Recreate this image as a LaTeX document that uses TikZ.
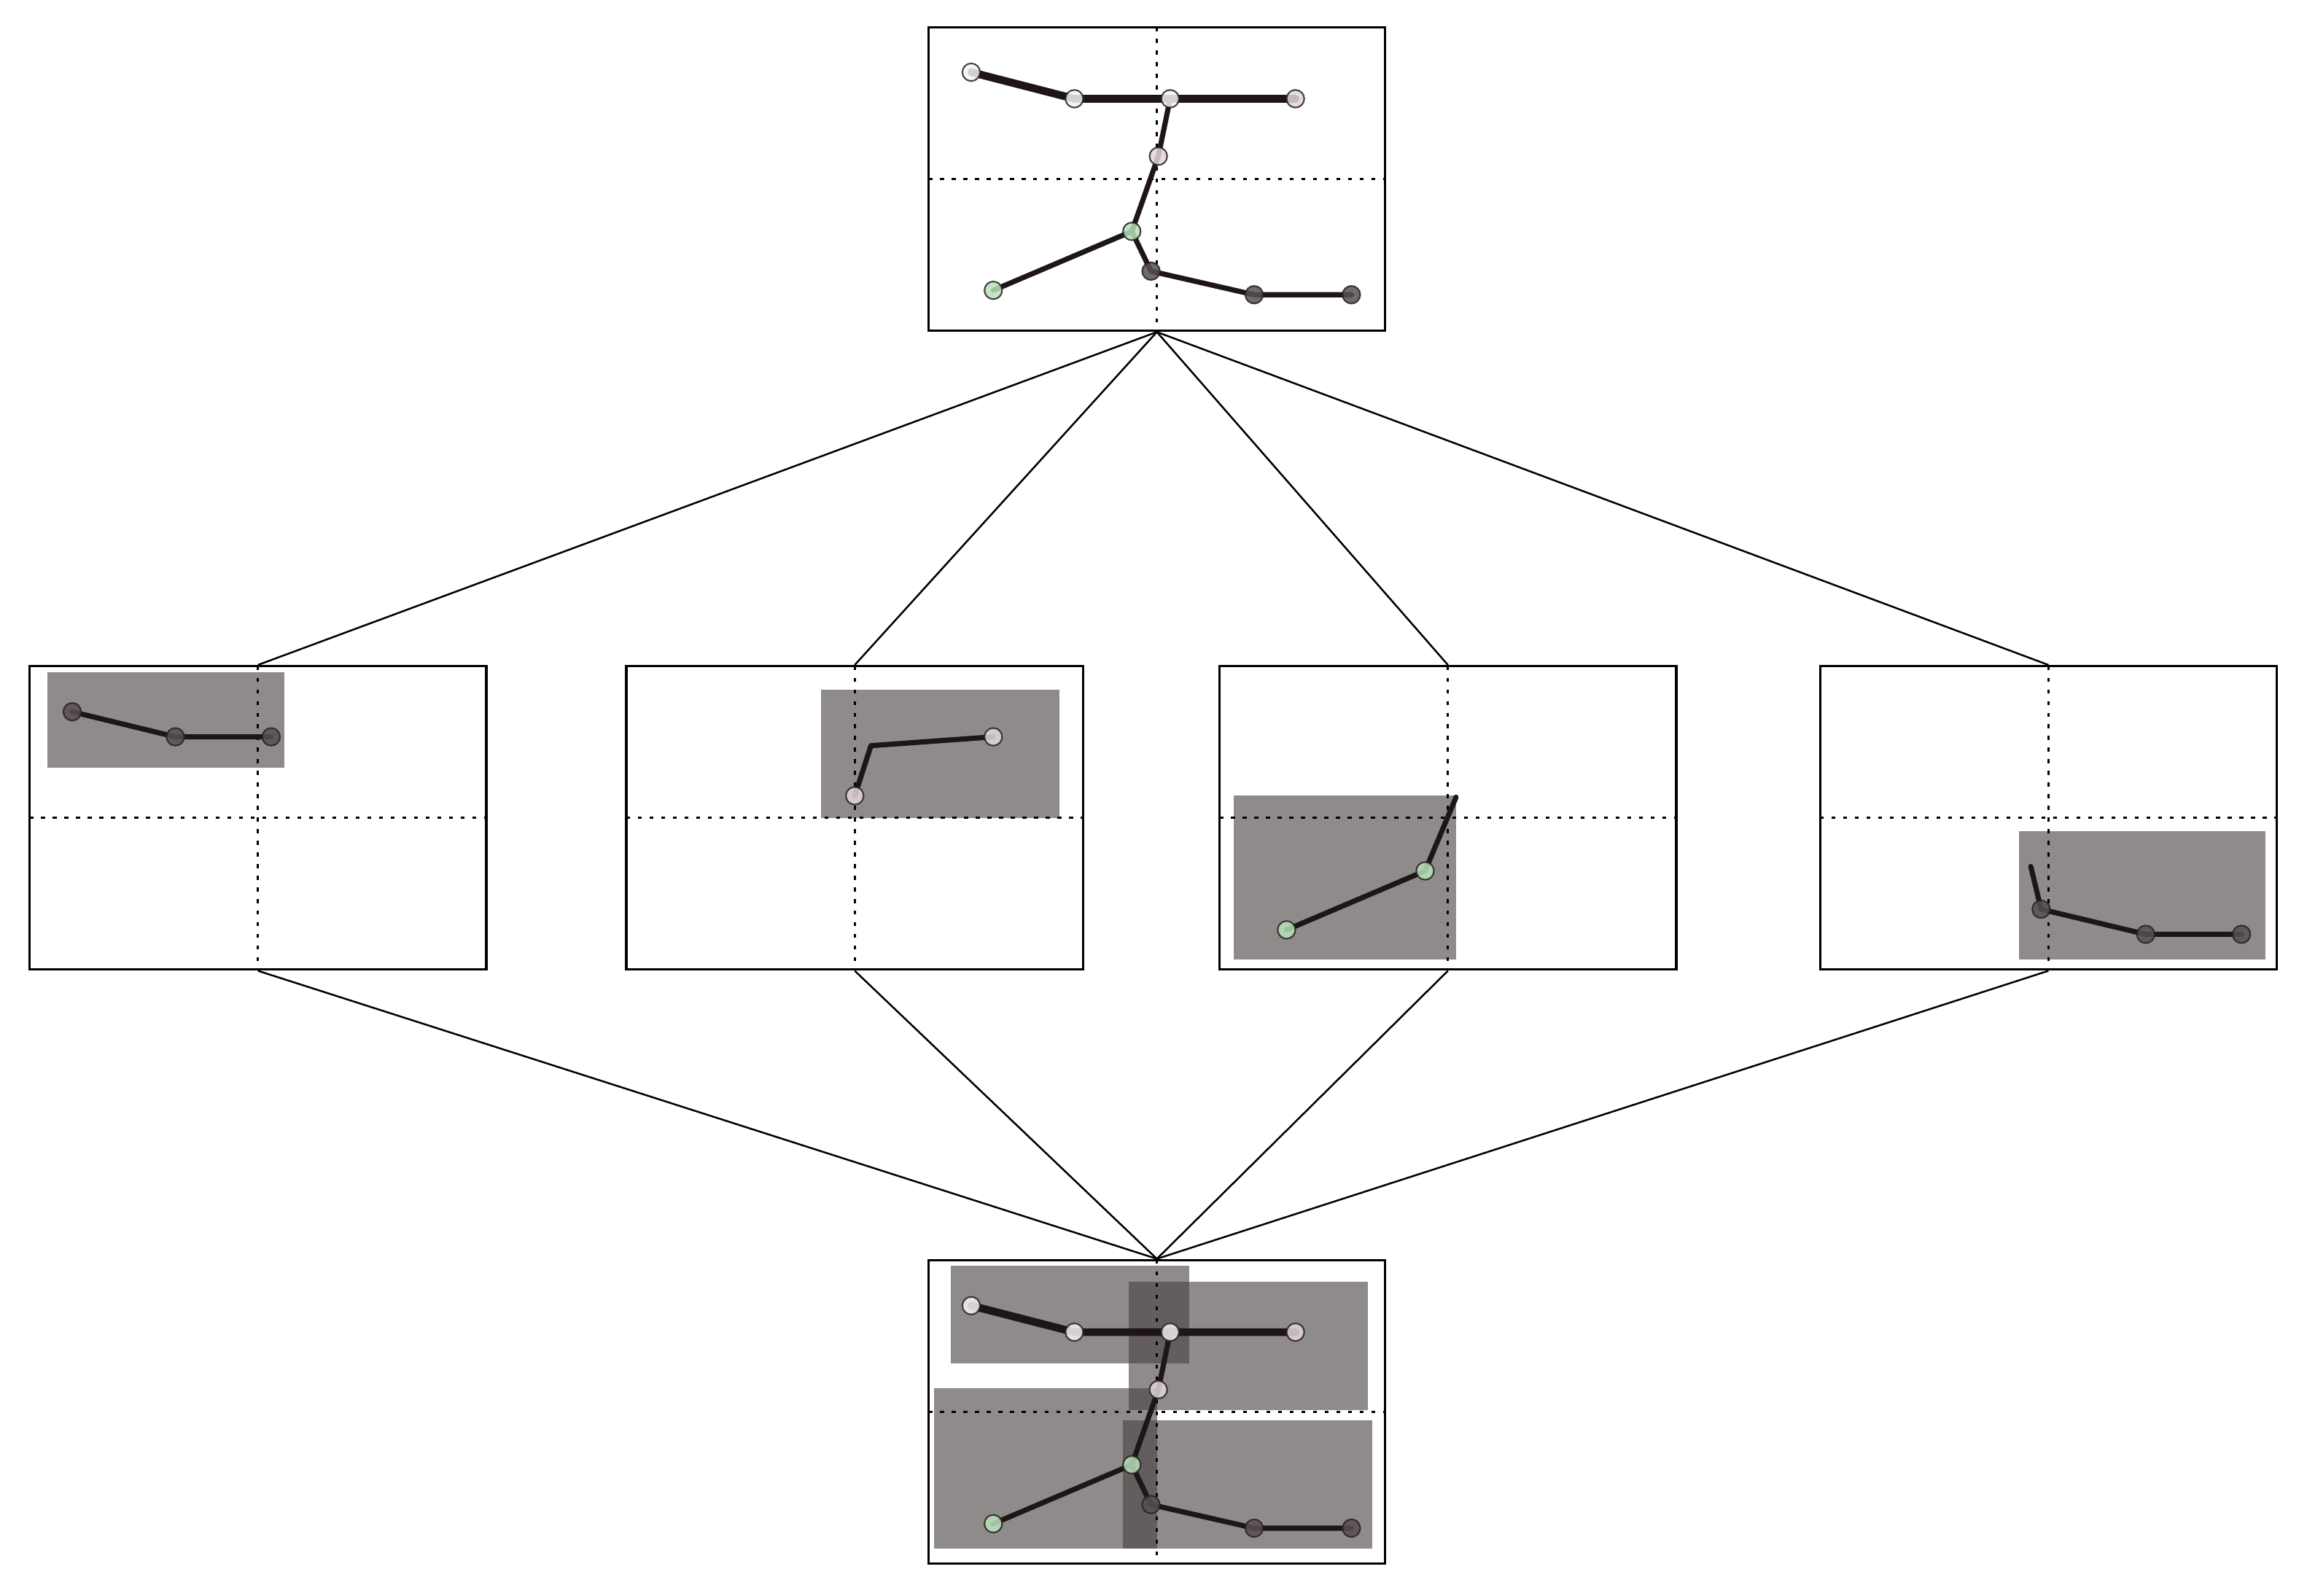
\documentclass[tikz,border=0pt]{standalone}
\begin{document}
\begin{tikzpicture}[x=0.02cm,y=-0.02cm,
  panel/.style={draw=black,line width=0.9pt,minimum width=6.2cm,minimum height=4.12cm,inner sep=0pt,fill=none},
  cross/.style={line width=0.8pt,dash pattern=on 1.5pt off 3pt},
  shade/.style={fill={rgb,255:red,70;green,62;blue,62},fill opacity=0.6,draw=none},
  conn/.style={line width=0.7pt},
  bone/.style={line width=2pt,line cap=round,line join=round,draw={rgb,255:red,30;green,22;blue,22}},
  fat/.style={line width=3pt,line cap=round,line join=round,draw={rgb,255:red,30;green,22;blue,22}},
  pw/.style={circle,draw={rgb,255:red,40;green,35;blue,35},line width=0.6pt,fill={rgb,255:red,245;green,242;blue,243},opacity=0.85,minimum size=0.24cm,inner sep=0pt},
  pp/.style={pw,fill={rgb,255:red,226;green,214;blue,218}},
  pg/.style={pw,fill={rgb,255:red,185;green,225;blue,185}},
  pd/.style={pw,fill={rgb,255:red,88;green,80;blue,80}}]
\useasboundingbox (0,0) rectangle (1560,1083);
% panels
\node[panel] (top) at (785,121.5) {};
\node[panel] (m1) at (175,555) {};
\node[panel] (m2) at (580,555) {};
\node[panel] (m3) at (982.5,555) {};
\node[panel] (m4) at (1390,555) {};
\node[panel] (bot) at (785,958) {};
% connectors
\foreach \m in {m1,m2,m3,m4}{
  \draw[conn] (top.south) -- (\m.north);
  \draw[conn] (\m.south) -- (bot.north);
}
% shaded regions in middle panels
\fill[shade] (32,456) rectangle (193,521);
\fill[shade] (557,468) rectangle (719,555);
\fill[shade] (837,540) rectangle (988,651);
\fill[shade] (1370,564) rectangle (1537,651);
% shaded regions in bottom panel
\fill[shade] (645,859) rectangle (807,925);
\fill[shade] (766,870) rectangle (928,957);
\fill[shade] (634,942) rectangle (785,1051);
\fill[shade] (762,964) rectangle (931,1051);
% crosses
\foreach \cx/\cy/\p in {785/121.5/top,175/555/m1,580/555/m2,982.5/555/m3,1390/555/m4,785/958/bot}{
  \draw[cross] (\cx,\cy-103) -- (\cx,\cy+103);
  \draw[cross] (\cx-155,\cy) -- (\cx+155,\cy);
}
% full skeleton (top and bottom)
\foreach \dy in {0,837}{
\begin{scope}[shift={(0,\dy)}]
  \draw[fat] (659,49) -- (729,67) -- (879,67);
  \draw[bone] (794,67) -- (786,106) -- (768,157) -- (674,197);
  \draw[bone] (768,157) -- (781,184) -- (851,200) -- (917,200);
  \node[pw] at (659,49) {};
  \node[pw] at (729,67) {};
  \node[pw] at (794,67) {};
  \node[pp] at (879,67) {};
  \node[pp] at (786,106) {};
  \node[pg] at (768,157) {};
  \node[pg] at (674,197) {};
  \node[pd] at (781,184) {};
  \node[pd] at (851,200) {};
  \node[pd] at (917,200) {};
\end{scope}}
% panel 1
\draw[bone] (49,483) -- (119,500) -- (184,500);
\node[pd] at (49,483) {};
\node[pd] at (119,500) {};
\node[pd] at (184,500) {};
% panel 2
\draw[bone] (580,540) -- (591,506) -- (674,500);
\node[pp] at (580,540) {};
\node[pp] at (674,500) {};
% panel 3
\draw[bone] (988,541) -- (967,591) -- (873,631);
\node[pg] at (967,591) {};
\node[pg] at (873,631) {};
% panel 4
\draw[bone] (1378,588) -- (1385,617) -- (1456,634) -- (1521,634);
\node[pd] at (1385,617) {};
\node[pd] at (1456,634) {};
\node[pd] at (1521,634) {};
\end{tikzpicture}
\end{document}
